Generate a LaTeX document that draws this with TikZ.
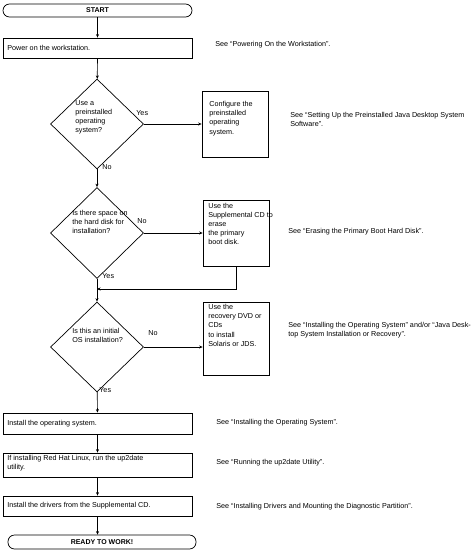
\documentclass[tikz,border=0pt]{standalone}
\usepackage{fontspec}
\setmainfont{Liberation Sans}
\usetikzlibrary{shapes.geometric,arrows.meta}

\begin{document}
\begin{tikzpicture}[x=1pt, y=-1pt, line width=0.7pt,
        txt/.style={inner sep=0pt, align=left, font=\fontsize{7.2}{9.2}\selectfont},
        term/.style={draw, rounded corners=6.5pt, minimum width=189pt, minimum height=13pt, inner sep=0pt, font=\fontsize{7}{9}\selectfont\bfseries},
        wide/.style={draw, minimum width=189pt, inner sep=0pt},
        sqbox/.style={draw, minimum width=66pt, inner sep=0pt},
        decide/.style={draw, diamond, minimum width=93pt, minimum height=90pt, inner sep=0pt},
        flow/.style={-{Stealth[length=3.5pt, width=3pt]}}]
        \useasboundingbox (0, 0) rectangle (474, 554);
        % main column
        \node[term] (start) at (97.5, 10.5) {START};
        \node[wide, minimum height=20pt] (power) at (97.5, 48) {};
        \node[decide] (osq) at (97, 124) {};
        \node[decide, minimum height=91pt] (spaceq) at (97, 233) {};
        \node[coordinate] (join) at (97, 289) {};
        \node[decide] (initq) at (97, 347) {};
        \node[wide, minimum height=21pt] (install) at (97.5, 423.5) {};
        \node[wide, minimum height=24pt] (redhat) at (97.5, 465) {};
        \node[wide, minimum height=20pt] (drivers) at (97.5, 506) {};
        \node[term, minimum width=188pt, minimum height=14pt] (ready) at (102, 542) {READY TO WORK!};
        % side boxes
        \node[sqbox, minimum height=66pt] (config) at (235, 124) {};
        \node[sqbox, minimum height=66pt] (erase) at (236, 233) {};
        \node[sqbox, minimum height=73pt] (recover) at (236, 338.5) {};
        % texts in the shapes
        \node[txt, anchor=west] (powert) at (7, 48) {Power on the workstation.};
        \node[txt, anchor=north west] (osqt) at (75, 100) {Use a\\preinstalled\\operating\\system?};
        \node[txt, anchor=north west] (spaceqt) at (72, 210) {Is there space on\\the hard disk for\\installation?};
        \node[txt, anchor=north west] (initqt) at (72, 328) {Is this an initial\\OS installation?};
        \node[txt, anchor=north west] (configt) at (209, 101) {Configure the\\preinstalled\\operating\\system.};
        \node[txt, anchor=north west] (eraset) at (208, 202.5) {Use the\\Supplemental CD to\\erase\\the primary\\boot disk.};
        \node[txt, anchor=north west] (recovert) at (208, 304) {Use the\\recovery DVD or\\CDs\\to install\\Solaris or JDS.};
        \node[txt, anchor=west] (installt) at (7, 423.5) {Install the operating system.};
        \node[txt, anchor=north west] (redhatt) at (7, 455) {If installing Red Hat Linux, run the up2date\\utility.};
        \node[txt, anchor=west] (driverst) at (7, 506) {Install the drivers from the Supplemental CD.};
        % yes / no
        \node[txt, anchor=west] (yes1) at (136, 113) {Yes};
        \node[txt, anchor=west] (no1) at (102, 167) {No};
        \node[txt, anchor=west] (no2) at (137, 221) {No};
        \node[txt, anchor=west] (yes2) at (102, 276) {Yes};
        \node[txt, anchor=west] (no3) at (148, 333) {No};
        \node[txt, anchor=west] (yes3) at (99, 390) {Yes};
        % references
        \node[txt, anchor=west] (see1) at (215, 45) {See “Powering On the Workstation”.};
        \node[txt, anchor=north west] (see2) at (290, 112) {See “Setting Up the Preinstalled Java Desktop System\\Software”.};
        \node[txt, anchor=west] (see3) at (288, 232) {See “Erasing the Primary Boot Hard Disk”.};
        \node[txt, anchor=north west] (see4) at (288, 322) {See “Installing the Operating System” and/or “Java Desk-\\top System Installation or Recovery”.};
        \node[txt, anchor=west] (see5) at (216, 423) {See “Installing the Operating System”.};
        \node[txt, anchor=west] (see6) at (216, 463) {See “Running the up2date Utility”.};
        \node[txt, anchor=west] (see7) at (216, 507) {See “Installing Drivers and Mounting the Diagnostic Partition”.};
        % connectors
        \draw[flow] (start) -- (power);
        \draw[flow] (power) -- (osq);
        \draw[flow] (osq.east) -- (config.west);
        \draw[flow] (osq) -- (spaceq);
        \draw[flow] (spaceq.east) -- (erase.west);
        \draw[flow] (spaceq) -- (initq);
        \draw[flow] (erase.south) |- (join);
        \draw[flow] (initq.east) -- (initq.east -| recover.west);
        \draw[flow] (initq) -- (install);
        \draw[flow] (install) -- (redhat);
        \draw[flow] (redhat) -- (drivers);
        \draw[flow] (drivers.south) -- (drivers.south |- ready.north);
    \end{tikzpicture}
\end{document}
